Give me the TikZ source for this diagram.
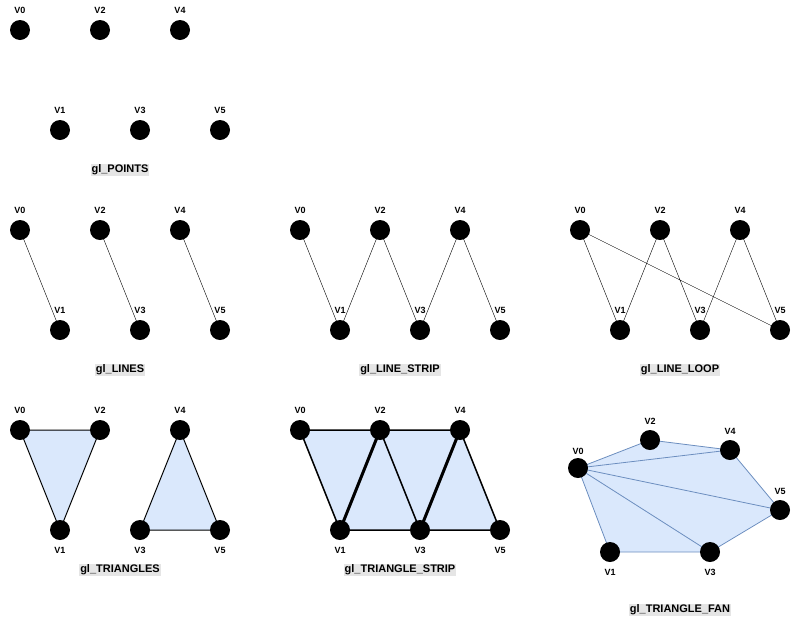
\documentclass[tikz,border=0pt]{standalone}
\usepackage{fontspec}
\setmainfont{Liberation Sans}
\definecolor{lblue}{RGB}{218,232,252}
\definecolor{dblue}{RGB}{108,142,191}
\begin{document}
\begin{tikzpicture}[x=1pt,y=-1pt,
 v/.style={circle,fill=black,inner sep=0pt,minimum size=20pt},
 lab/.style={font=\bfseries\fontsize{9}{10}\selectfont,inner sep=0pt},
 title/.style={font=\bfseries\fontsize{11}{12}\selectfont,fill=black!10,inner sep=1pt},
 tri/.style={fill=lblue,draw=black,line width=1pt,line join=round},
 fan/.style={fill=lblue,draw=dblue,line width=0.8pt}]
\useasboundingbox (0,0) rectangle (802,622);
% POINTS
\foreach \n/\x/\y in {0/20/30,2/100/30,4/180/30,1/60/130,3/140/130,5/220/130}{
 \node[v] (p\n) at (\x,\y) {};
 \node[lab] (pl\n) at (\x,\y-20) {V\n};}
\node[title] (tp) at (120,170) {gl\_POINTS};
% LINES, STRIP, LOOP
\foreach \k/\o in {a/0,b/280,c/560}{
 \foreach \n/\x in {0/20,2/100,4/180}{
  \node[v] (\k\n) at (\x+\o,230) {};
  \node[lab] (\k l\n) at (\x+\o,210) {V\n};}
 \foreach \n/\x in {1/60,3/140,5/220}{
  \node[v] (\k\n) at (\x+\o,330) {};
  \node[lab] (\k l\n) at (\x+\o,310) {V\n};}
}
\draw (a0.center)--(a1.center) (a2.center)--(a3.center) (a4.center)--(a5.center);
\draw (b0.center)--(b1.center)--(b2.center)--(b3.center)--(b4.center)--(b5.center);
\draw (c0.center)--(c1.center)--(c2.center)--(c3.center)--(c4.center)--(c5.center)--(c0.center);
\node[title] (ta) at (120,370) {gl\_LINES};
\node[title] (tb) at (400,370) {gl\_LINE\_STRIP};
\node[title] (tc) at (680,370) {gl\_LINE\_LOOP};
% TRIANGLES
\coordinate (d0) at (20,430); \coordinate (d2) at (100,430); \coordinate (d1) at (60,530);
\coordinate (d4) at (180,430); \coordinate (d3) at (140,530); \coordinate (d5) at (220,530);
\draw[tri] (d0)--(d2)--(d1)--cycle;
\draw[tri] (d4)--(d3)--(d5)--cycle;
\foreach \n in {0,...,5}{\node[v] (dv\n) at (d\n) {};}
\node[lab] at (20,410) {V0}; \node[lab] at (100,410) {V2}; \node[lab] at (180,410) {V4};
\node[lab] at (60,550) {V1}; \node[lab] at (140,550) {V3}; \node[lab] at (220,550) {V5};
\node[title] (td) at (120,570) {gl\_TRIANGLES};
% TRIANGLE STRIP
\coordinate (e0) at (300,430); \coordinate (e2) at (380,430); \coordinate (e4) at (460,430);
\coordinate (e1) at (340,530); \coordinate (e3) at (420,530); \coordinate (e5) at (500,530);
\fill[lblue] (e0)--(e4)--(e5)--(e1)--cycle;
\draw[line width=1.5pt] (e0)--(e4) (e1)--(e5) (e0)--(e1) (e4)--(e5) (e1)--(e2)--(e3)--(e4);
\draw[line width=3pt] (e2)--(e1) (e3)--(e4);
\foreach \n in {0,...,5}{\node[v] (ev\n) at (e\n) {};}
\node[lab] at (300,410) {V0}; \node[lab] at (380,410) {V2}; \node[lab] at (460,410) {V4};
\node[lab] at (340,550) {V1}; \node[lab] at (420,550) {V3}; \node[lab] at (500,550) {V5};
\node[title] (te) at (400,570) {gl\_TRIANGLE\_STRIP};
% FAN
\coordinate (f0) at (578,468); \coordinate (f2) at (650,440); \coordinate (f4) at (730,450);
\coordinate (f5) at (780,510); \coordinate (f3) at (710,552); \coordinate (f1) at (610,552);
\draw[fan] (f0)--(f2)--(f4)--(f5)--(f3)--(f1)--cycle;
\draw[fan] (f0)--(f4) (f0)--(f5) (f0)--(f3);
\foreach \n in {0,...,5}{\node[v] (fv\n) at (f\n) {};}
\node[lab] at (578,451) {V0}; \node[lab] at (650,421) {V2}; \node[lab] at (730,431) {V4};
\node[lab] at (780,491) {V5}; \node[lab] at (610,572) {V1}; \node[lab] at (710,572) {V3};
\node[title] (tf) at (680,610) {gl\_TRIANGLE\_FAN};
\end{tikzpicture}
\end{document}
